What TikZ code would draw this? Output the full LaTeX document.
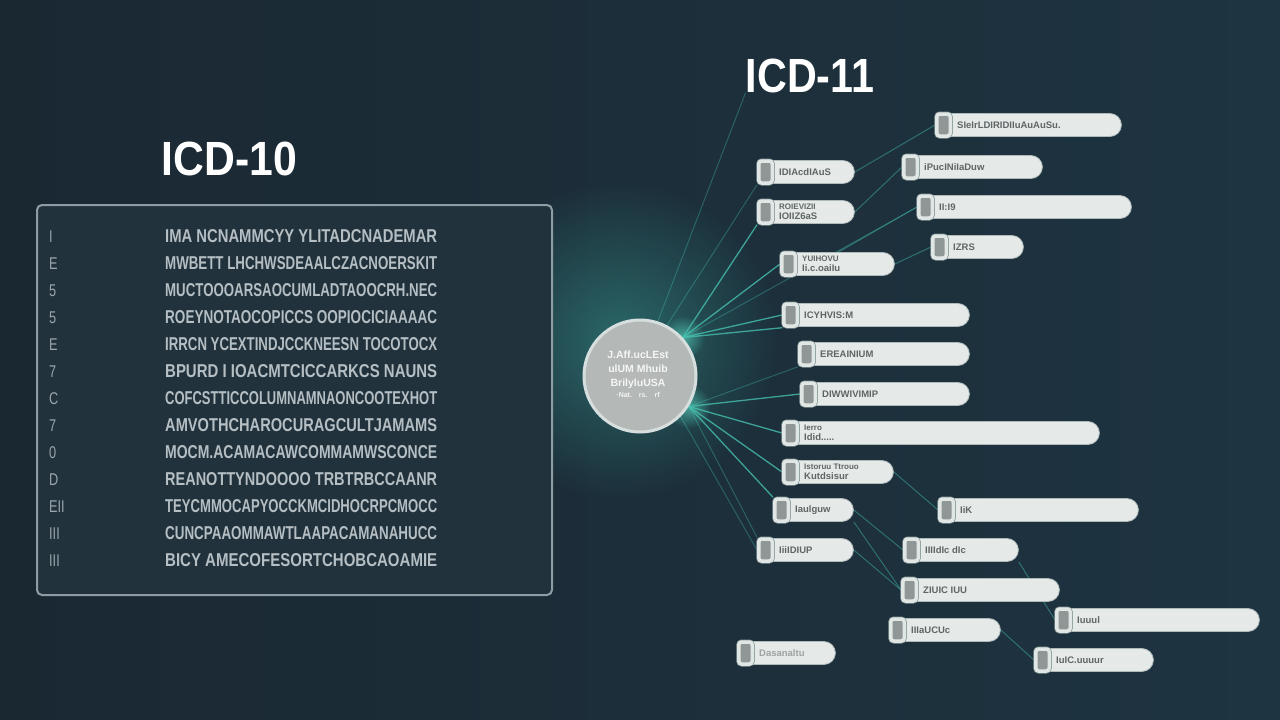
\documentclass[tikz,border=0pt]{standalone}
\usepackage{fontspec}
\setmainfont{Liberation Sans}
\usetikzlibrary{calc,fadings}
\pgfdeclarelayer{back}
\pgfdeclarelayer{lines}
\pgfsetlayers{back,lines,main}
\tikzfading[name=glowfade,inner color=transparent!0,outer color=transparent!100]
\definecolor{bgA}{HTML}{1A2832}
\definecolor{bgB}{HTML}{1E3441}
\definecolor{glowc}{HTML}{2F7B77}
\definecolor{hubglow}{HTML}{5FE3CB}
\definecolor{boxfill}{HTML}{22323C}
\definecolor{boxline}{HTML}{8E9CA3}
\definecolor{rowc}{HTML}{B4BEC3}
\definecolor{numc}{HTML}{9AA6AB}
\definecolor{pillfill}{HTML}{E5E9E7}
\definecolor{pillline}{HTML}{AEB9B9}
\definecolor{iconlight}{HTML}{E0E6E4}
\definecolor{iconout}{HTML}{8A9C9C}
\definecolor{iconin}{HTML}{8F9696}
\definecolor{ptextc}{HTML}{5E6666}
\definecolor{linec}{HTML}{46C0B0}
\definecolor{circfill}{HTML}{B4B9B8}
\definecolor{circline}{HTML}{D6DFDE}
\begin{document}
\begin{tikzpicture}[x=1pt,y=-1pt,
  title/.style={text=white,font=\fontsize{48}{48}\selectfont\bfseries,inner sep=0pt},
  tablebox/.style={draw=boxline,fill=boxfill,rounded corners=5pt,line width=2pt,minimum width=515pt,minimum height=390pt,inner sep=0pt},
  rownum/.style={text=numc,font=\fontsize{17}{17}\selectfont,inner sep=0pt},
  rowtxt/.style={text=rowc,font=\bfseries,inner sep=0pt},
  pill/.style={fill=pillfill,draw=pillline,line width=0.8pt,rounded corners=11.5pt,minimum height=23pt,inner sep=0pt},
  iconbox/.style={fill=iconin,draw=iconlight,line width=3.5pt,rounded corners=3pt,minimum width=13.5pt,minimum height=22pt,inner sep=0pt,
     preaction={draw=iconout,line width=5pt}},
  ptext/.style={text=ptextc,font=\fontsize{9.5}{10}\selectfont\bfseries,inner sep=0pt,align=left},
  hubnode/.style={circle,minimum size=112pt,fill=circfill,draw=circline,line width=3pt,inner sep=0pt},
  ln/.style={draw=linec,line width=1.3pt,opacity=0.8},
  lnfaint/.style={draw=linec,line width=1pt,opacity=0.35},
  lnlink/.style={draw=linec,line width=1pt,opacity=0.45}]
\useasboundingbox (0,0) rectangle (1280,720);
\begin{pgfonlayer}{back}
  \shade[left color=bgA,right color=bgB] (0,0) rectangle (1280,720);
  \fill[glowc,path fading=glowfade,opacity=0.75] (620,340) circle (160);
\end{pgfonlayer}

% titles
\node[title,anchor=base] (icd10) at (229.5,175) {\scalebox{0.89}[1]{ICD-10}};
\node[title,anchor=base] (icd11) at (810,92) {\scalebox{0.86}[1]{ICD-11}};

% left table
\node[tablebox,anchor=north west] (tab) at (36,204) {};
\foreach \i/\num/\txt in {
  0/I/IMA NCNAMMCYY YLITADCNADEMAR,
  1/E/MWBETT LHCHWSDEAALCZACNOERSKIT,
  2/5/MUCTOOOARSAOCUMLADTAOOCRH.NEC,
  3/5/ROEYNOTAOCOPICCS OOPIOCICIAAAAC,
  4/E/IRRCN YCEXTINDJCCKNEESN TOCOTOCX,
  5/7/BPURD I IOACMTCICCARKCS NAUNS,
  6/C/COFCSTTICCOLUMNAMNAONCOOTEXHOT,
  7/7/AMVOTHCHAROCURAGCULTJAMAMS,
  8/0/MOCM.ACAMACAWCOMMAMWSCONCE,
  9/D/REANOTTYNDOOOO TRBTRBCCAANR,
  10/EII/TEYCMMOCAPYOCCKMCIDHOCRPCMOCC,
  11/III/CUNCPAAOMMAWTLAAPACAMANAHUCC,
  12/III/BICY AMECOFESORTCHOBCAOAMIE}{
  \node[rownum,anchor=base west] (n\i) at (49,242+27*\i) {\scalebox{0.75}[1]{\num}};
  \node[rowtxt,anchor=base west] (r\i) at (165,242+27*\i) {\resizebox{272pt}{13pt}{\txt}};
}

% central circle
\node[hubnode] (hub) at (640,376) {};
\node[text=white!92!gray,font=\fontsize{10.5}{14}\selectfont\bfseries,align=center,inner sep=0pt] (hubt) at (638,374)
  {J.Aff.ucLEst\\ulUM Mhuib\\BrilyluUSA\\[-3pt]{\fontsize{7}{8}\selectfont ·Nat.\quad rs.\quad rf}};
\coordinate (hubU) at (hub.42);
\coordinate (hubL) at (hub.-32);

% pills
\foreach \n/\xl/\xr/\y/\t in {
  1/935/1121/125/{SIeIrLDIRIDIIuAuAuSu.},
  2/757/854/172/{IDIAcdIAuS},
  3/902/1042/167/{iPucINiIaDuw},
  4/757/854/212/{\fontsize{8}{8}\selectfont ROIEVIZII\\IOIIZ6aS},
  5/917/1131/207/{II:I9},
  6/931/1023/247/{IZRS},
  7/780/894/264/{\fontsize{8}{8}\selectfont YUIHOVU\\Ii.c.oaiIu},
  8/782/969/315/{ICYHVIS:M},
  9/798/969/354/{EREAINIUM},
  10/800/969/394/{DIWWIVIMIP},
  11/782/1099/433/{\fontsize{8}{8}\selectfont Ierro\\Idid.....},
  12/782/893/472/{\fontsize{8}{8}\selectfont Istoruu Ttrouo\\Kutdsisur},
  13/773/853/510/{Iaulguw},
  14/938/1138/510/{IiK},
  15/757/853/550/{IiiIDIUP},
  16/903/1018/550/{IIIIdIc dIc},
  17/901/1059/590/{ZIUIC IUU},
  18/1055/1259/620/{Iuuul},
  19/889/1000/630/{IIIaUCUc},
  20/737/835/653/{\textcolor{ptextc!60}{Dasanaltu}},
  21/1034/1153/660/{IuIC.uuuur}}{
  \pgfmathsetmacro\w{\xr-\xl-2}
  \node[pill,minimum width=\w pt,anchor=west] (p\n) at (\xl+2,\y) {};
  \node[iconbox] (p\n i) at (\xl+8.5,\y) {};
  \node[ptext,anchor=west] (pt\n) at (\xl+22,\y) {\t};
}

% connectors
\begin{pgfonlayer}{lines}
  \fill[hubglow,path fading=glowfade,opacity=0.6] (hubU) circle (22);
  \fill[hubglow,path fading=glowfade,opacity=0.6] (hubL) circle (22);
  \draw[lnfaint] (hub.72) -- (icd11.south west);
  \draw[lnfaint] (hub.62) -- (p2i.south west);
  \draw[ln] (hubU) -- (p4i.south west);
  \draw[ln] (hubU) -- (p7i.west);
  \draw[ln] (hubU) -- (p8i.west);
  \draw[ln] (hubU) -- (p8i.south west);
  \draw[lnfaint] (hubU) -- (p5i.west);
  \draw[lnfaint] (hubL) -- (p9i.south west);
  \draw[ln] (hubL) -- (p10i.west);
  \draw[ln] (hubL) -- (p11i.west);
  \draw[ln] (hubL) -- (p12i.west);
  \draw[ln] (hubL) -- (p13i.north west);
  \draw[lnfaint] (hubL) -- (p15i.north west);
  \draw[lnfaint] (hub.-45) -- (p15i.west);
  \draw[lnlink] (p2.east) -- (p1i.west);
  \draw[lnlink] (p4.east) -- (p3i.west);
  \draw[lnlink] (p7.north) -- (p5i.west);
  \draw[lnlink] (p7.east) -- (p6i.west);
  \draw[lnlink] (p12.east) -- (p14i.west);
  \draw[lnlink] (p13.east) -- (p16i.west);
  \draw[lnlink] (p13.south east) -- (p17i.west);
  \draw[lnlink] (p15.east) -- (p17i.west);
  \draw[lnlink] (p16.south east) -- (p18i.west);
  \draw[lnlink] (p19.east) -- (p21i.west);
\end{pgfonlayer}
\end{tikzpicture}
\end{document}
